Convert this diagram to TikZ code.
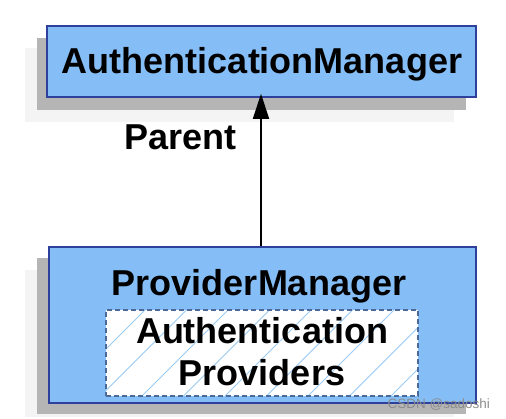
\documentclass[tikz,border=0pt]{standalone}
\usepackage{fontspec}
\setmainfont{Liberation Sans}
\usetikzlibrary{arrows.meta}
\definecolor{boxfill}{HTML}{85BEF6}
\definecolor{boxline}{HTML}{2E3F9C}
\definecolor{shadowgray}{HTML}{B5B5B5}
\definecolor{faintgray}{HTML}{F4F4F4}
\definecolor{hatchblue}{HTML}{9CCBF5}
\definecolor{dashblue}{HTML}{4C6A99}
\definecolor{wmgray}{HTML}{8C8C8C}
\tikzset{
  box/.style={draw=boxline, fill=boxfill, line width=1.5pt, inner sep=0pt},
  innerbox/.style={draw=dashblue, line width=2pt, dash pattern=on 5pt off 3pt, inner sep=0pt},
  lbl/.style={font=\bfseries\fontsize{36}{42}\selectfont, inner sep=0pt, align=center},
  shadowfill/.style={fill=shadowgray},
  faint/.style={fill=faintgray},
  hatch/.style={draw=hatchblue, line width=1pt},
  conn/.style={-{Triangle[length=25pt,width=16pt]}, line width=1.3pt, shorten >=-4pt}
}
\begin{document}
\begin{tikzpicture}[x=1pt,y=-1pt]
\useasboundingbox (0,0) rectangle (506,418);
% faint backdrops
\path[faint] (25,48) rectangle (454,122);
\path[faint] (25,270) rectangle (454,417);
% shadows
\path[shadowfill] (37,38) rectangle (466,110);
\path[shadowfill] (37,258) rectangle (466,414);
% boxes
\node[box, minimum width=429pt, minimum height=71pt] (am) at (261.5,61.5) {};
\node[box, minimum width=427pt, minimum height=156pt] (pm) at (262.5,325) {};
% inner hatched box
\fill[white] (106,310) rectangle (418,396);
\begin{scope}
  \clip (106,310) rectangle (418,396);
  \foreach \c in {413.5,455,...,840} {
    \draw[hatch] (\c-430,430) -- (\c-290,290);
  }
\end{scope}
\node[innerbox, minimum width=312pt, minimum height=86pt] (ap) at (262,353) {};
% texts
\node[lbl, anchor=base] (amt) at (262,73) {AuthenticationManager};
\node[lbl, anchor=base] (pmt) at (259,295) {ProviderManager};
\node[lbl, anchor=base] (apt1) at (262,343) {Authentication};
\node[lbl, anchor=base] (apt2) at (262,385) {Providers};
\node[lbl, anchor=base] (par) at (180.5,149) {Parent};
% connector
\draw[conn] ([xshift=-0.5pt]am.south |- pm.north) -- ([xshift=-0.5pt]am.south);
% watermark
\node[font=\fontsize{13.5}{15}\selectfont, text=wmgray, anchor=base east, inner sep=0pt] (wm) at (490,408) {CSDN @sadoshi};
\end{tikzpicture}
\end{document}
